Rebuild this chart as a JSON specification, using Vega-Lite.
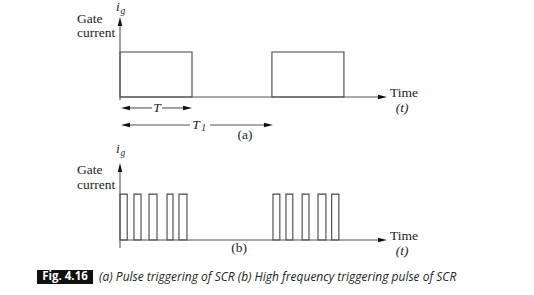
{
  "$schema": "https://vega.github.io/schema/vega-lite/v6.json",
  "padding": 0,
  "spacing": 0,
  "background": "white",
  "config": {"view": {"stroke": null}, "text": {"font": "Liberation Serif", "fontSize": 13.5, "color": "#222"}},
  "vconcat": [
    {
      "width": 534,
      "height": 140,
      "encoding": {
        "x": {"field": "t", "type": "quantitative", "scale": {"domain": [-16.667, 57.5], "nice": false, "zero": false}, "axis": null},
        "y": {"field": "v", "type": "quantitative", "scale": {"domain": [-0.956, 2.156], "nice": false, "zero": false}, "axis": null}
      },
      "layer": [
        {
          "data": {"values": [{"t": 0, "t2": 10, "v": 0, "v2": 1}, {"t": 21.1, "t2": 31.1, "v": 0, "v2": 1}]},
          "mark": {"type": "rect", "fillOpacity": 0, "stroke": "#444", "strokeWidth": 1.1},
          "encoding": {"x2": {"field": "t2"}, "y2": {"field": "v2"}}
        },
        {
          "data": {"values": [
            {"t": 0, "t2": 36.4, "v": 0, "v2": 0},
            {"t": 0, "t2": 0, "v": -0.07, "v2": 1.65},
            {"t": 0.8, "t2": 4.44, "v": -0.244, "v2": -0.244},
            {"t": 5.83, "t2": 9.3, "v": -0.244, "v2": -0.244},
            {"t": 0.8, "t2": 9.72, "v": -0.622, "v2": -0.622},
            {"t": 12.5, "t2": 20.5, "v": -0.622, "v2": -0.622}
          ]},
          "mark": {"type": "rule", "color": "#555", "strokeWidth": 1.1},
          "encoding": {"x2": {"field": "t2"}, "y2": {"field": "v2"}}
        },
        {
          "data": {"values": [
            {"t": 36.46, "v": 0, "dir": "right"},
            {"t": 0, "v": 1.678, "dir": "up"},
            {"t": 0.76, "v": -0.244, "dir": "left"},
            {"t": 9.38, "v": -0.244, "dir": "right"},
            {"t": 0.76, "v": -0.622, "dir": "left"},
            {"t": 20.62, "v": -0.622, "dir": "right"}
          ]},
          "mark": {"type": "point", "filled": true, "color": "#111", "opacity": 1, "size": 81},
          "encoding": {"shape": {"field": "dir", "type": "nominal", "legend": null, "scale": {"domain": ["right", "left", "up"], "range": ["M1,0L-1,-0.5L-1,0.5Z", "M-1,0L1,-0.5L1,0.5Z", "M0,-1L-0.5,1L0.5,1Z"]}}}
        },
        {
          "data": {"values": [
            {"t": -5.97, "v": 1.733, "label": "Gate"},
            {"t": -5.97, "v": 1.422, "label": "current"},
            {"t": 37.5, "v": 0.089, "label": "Time"}
          ]},
          "mark": {"type": "text", "align": "left", "baseline": "middle"},
          "encoding": {"text": {"field": "label"}}
        },
        {
          "data": {"values": [{"t": 17.36, "v": -0.844, "label": "(a)"}]},
          "mark": {"type": "text", "align": "center", "baseline": "middle"},
          "encoding": {"text": {"field": "label"}}
        },
        {
          "data": {"values": [
            {"t": -0.28, "v": 2.0, "label": "i"},
            {"t": 39.17, "v": -0.244, "label": "(t)"},
            {"t": 5.14, "v": -0.244, "label": "T"},
            {"t": 10.56, "v": -0.622, "label": "T"}
          ]},
          "mark": {"type": "text", "align": "center", "baseline": "middle", "fontStyle": "italic"},
          "encoding": {"text": {"field": "label"}}
        },
        {
          "data": {"values": [
            {"t": 0.4, "v": 1.91, "label": "g"},
            {"t": 11.6, "v": -0.7, "label": "1"}
          ]},
          "mark": {"type": "text", "align": "center", "baseline": "middle", "fontStyle": "italic", "fontSize": 9.5},
          "encoding": {"text": {"field": "label"}}
        }
      ]
    },
    {
      "width": 534,
      "height": 118,
      "encoding": {
        "x": {"field": "t", "type": "quantitative", "scale": {"domain": [-16.667, 57.5], "nice": false, "zero": false}, "axis": null},
        "y": {"field": "v", "type": "quantitative", "scale": {"domain": [-0.467, 2.156], "nice": false, "zero": false}, "axis": null}
      },
      "layer": [
        {
          "data": {"values": [
            {"t": 0, "t2": 1.0, "v": 0, "v2": 1.02},
            {"t": 1.94, "t2": 2.92, "v": 0, "v2": 1.02},
            {"t": 4.03, "t2": 5.14, "v": 0, "v2": 1.02},
            {"t": 6.53, "t2": 7.36, "v": 0, "v2": 1.02},
            {"t": 8.19, "t2": 9.3, "v": 0, "v2": 1.02},
            {"t": 21.25, "t2": 22.2, "v": 0, "v2": 1.02},
            {"t": 23.05, "t2": 24.0, "v": 0, "v2": 1.02},
            {"t": 25.3, "t2": 26.25, "v": 0, "v2": 1.02},
            {"t": 27.5, "t2": 28.6, "v": 0, "v2": 1.02},
            {"t": 29.4, "t2": 30.4, "v": 0, "v2": 1.02}
          ]},
          "mark": {"type": "rect", "fillOpacity": 0, "stroke": "#444", "strokeWidth": 1.1},
          "encoding": {"x2": {"field": "t2"}, "y2": {"field": "v2"}}
        },
        {
          "data": {"values": [
            {"t": 0, "t2": 36.4, "v": 0, "v2": 0},
            {"t": 0, "t2": 0, "v": -0.178, "v2": 1.58}
          ]},
          "mark": {"type": "rule", "color": "#555", "strokeWidth": 1.1},
          "encoding": {"x2": {"field": "t2"}, "y2": {"field": "v2"}}
        },
        {
          "data": {"values": [
            {"t": 36.46, "v": 0, "dir": "right"},
            {"t": 0, "v": 1.611, "dir": "up"}
          ]},
          "mark": {"type": "point", "filled": true, "color": "#111", "opacity": 1, "size": 81},
          "encoding": {"shape": {"field": "dir", "type": "nominal", "legend": null, "scale": {"domain": ["right", "left", "up"], "range": ["M1,0L-1,-0.5L-1,0.5Z", "M-1,0L1,-0.5L1,0.5Z", "M0,-1L-0.5,1L0.5,1Z"]}}}
        },
        {
          "data": {"values": [
            {"t": -5.97, "v": 1.556, "label": "Gate"},
            {"t": -5.97, "v": 1.222, "label": "current"},
            {"t": 37.5, "v": 0.089, "label": "Time"}
          ]},
          "mark": {"type": "text", "align": "left", "baseline": "middle"},
          "encoding": {"text": {"field": "label"}}
        },
        {
          "data": {"values": [{"t": 16.53, "v": -0.178, "label": "(b)"}]},
          "mark": {"type": "text", "align": "center", "baseline": "middle"},
          "encoding": {"text": {"field": "label"}}
        },
        {
          "data": {"values": [
            {"t": -0.28, "v": 2.02, "label": "i"},
            {"t": 39.17, "v": -0.244, "label": "(t)"}
          ]},
          "mark": {"type": "text", "align": "center", "baseline": "middle", "fontStyle": "italic"},
          "encoding": {"text": {"field": "label"}}
        },
        {
          "data": {"values": [{"t": 0.4, "v": 1.93, "label": "g"}]},
          "mark": {"type": "text", "align": "center", "baseline": "middle", "fontStyle": "italic", "fontSize": 9.5},
          "encoding": {"text": {"field": "label"}}
        }
      ]
    },
    {
      "width": 534,
      "height": 37,
      "encoding": {
        "x": {"field": "t", "type": "quantitative", "scale": {"domain": [-16.667, 57.5], "nice": false, "zero": false}, "axis": null},
        "y": {"field": "v", "type": "quantitative", "scale": {"domain": [0, 37], "nice": false, "zero": false}, "axis": null}
      },
      "layer": [
        {
          "data": {"values": [{"t": -11.53, "t2": -3.75, "v": 14, "v2": 28}]},
          "mark": {"type": "rect", "color": "#111"},
          "encoding": {"x2": {"field": "t2"}, "y2": {"field": "v2"}}
        },
        {
          "data": {"values": [{"t": -7.64, "v": 21, "label": "Fig. 4.16"}]},
          "mark": {"type": "text", "align": "center", "baseline": "middle", "font": "Open Sans", "fontWeight": "bold", "fontSize": 11.5, "color": "white"},
          "encoding": {"text": {"field": "label"}}
        },
        {
          "data": {"values": [{"t": -2.9, "v": 21, "label": "(a) Pulse triggering of SCR (b) High frequency triggering pulse of SCR"}]},
          "mark": {"type": "text", "align": "left", "baseline": "middle", "font": "Open Sans", "fontStyle": "italic", "fontSize": 12, "color": "#222"},
          "encoding": {"text": {"field": "label"}}
        }
      ]
    }
  ],
  "resolve": {"scale": {"x": "independent", "y": "independent", "shape": "independent"}}
}
